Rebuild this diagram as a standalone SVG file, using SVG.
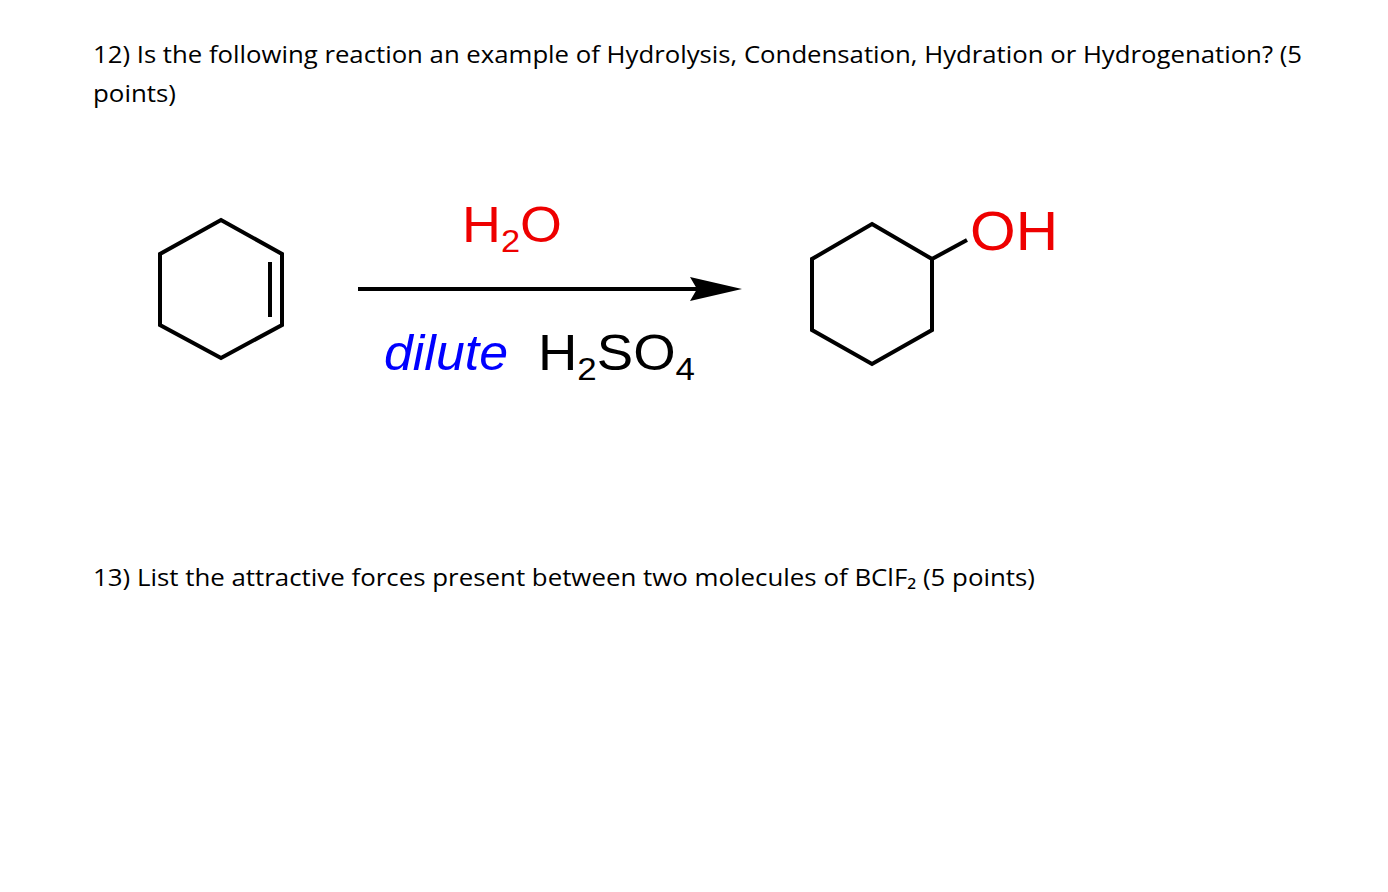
<svg xmlns="http://www.w3.org/2000/svg" width="1388" height="892" viewBox="0 0 1388 892">
<style>
.q{font-family:"Open Sans","Liberation Sans",sans-serif;font-size:24px;fill:#000;font-weight:500}
.b{fill:none;stroke:#000;stroke-width:4;stroke-linejoin:miter}
.c{font-family:"Liberation Sans",Arial,sans-serif}
</style>
<rect width="1388" height="892" fill="#fff"/>
<text class="q" x="93" y="63" textLength="1209" lengthAdjust="spacingAndGlyphs">12) Is the following reaction an example of Hydrolysis, Condensation, Hydration or Hydrogenation? (5</text>
<text class="q" x="93" y="102" textLength="83" lengthAdjust="spacingAndGlyphs">points)</text>
<text class="q" x="93" y="586" textLength="942" lengthAdjust="spacingAndGlyphs">13) List the attractive forces present between two molecules of BClF₂ (5 points)</text>
<g id="cyclohexene">
<polygon class="b" points="221,220 282,254 282,325 221,358 160,325 160,254"/>
<line x1="270" y1="262" x2="270" y2="317" stroke="#000" stroke-width="4"/>
</g>
<g id="connectors">
<line x1="358" y1="289" x2="700" y2="289" stroke="#000" stroke-width="4"/>
<path d="M690,277 L742,289 L690,301 L697,289 Z" fill="#000"/>
</g>
<g id="reagents">
<text class="c" x="462" y="242" font-size="50" fill="#e00" textLength="100" lengthAdjust="spacingAndGlyphs">H<tspan font-size="32" dy="10">2</tspan><tspan dy="-10">O</tspan></text>
<text class="c" x="384" y="370" font-size="50" fill="#00f" font-style="italic" textLength="124" lengthAdjust="spacingAndGlyphs">dilute</text>
<text class="c" x="538" y="370" font-size="50" fill="#000" textLength="157" lengthAdjust="spacingAndGlyphs">H<tspan font-size="32" dy="10">2</tspan><tspan dy="-10">SO</tspan><tspan font-size="32" dy="10">4</tspan></text>
</g>
<g id="cyclohexanol">
<polygon class="b" points="872,224 932,259 932,330 872,364 812,330 812,259"/>
<line x1="932" y1="259" x2="967" y2="240" stroke="#000" stroke-width="4"/>
<text class="c" x="970" y="250" font-size="56" fill="#e00" textLength="88" lengthAdjust="spacingAndGlyphs">OH</text>
</g>
</svg>
